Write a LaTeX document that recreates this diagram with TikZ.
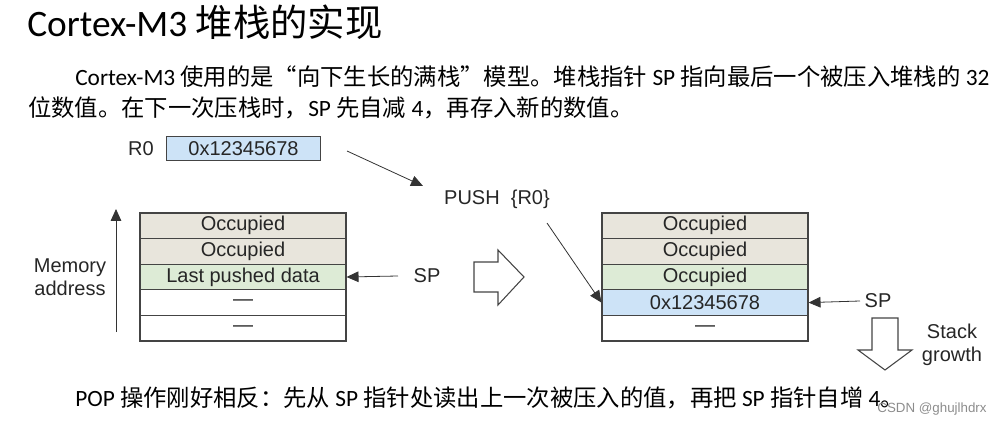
\documentclass[tikz,border=0pt]{standalone}
\usepackage{fontspec}
\setmainfont{Carlito}
\newfontfamily\cjk{Noto Sans CJK SC}
\newfontfamily\arial{Liberation Sans}
\usetikzlibrary{arrows.meta}
\definecolor{occ}{HTML}{E8E5DC}
\definecolor{grn}{HTML}{DDEBD6}
\definecolor{blu}{HTML}{CDE3F7}
\definecolor{edge}{HTML}{444444}
\tikzset{
  cell/.style={draw=edge,line width=0.8pt,minimum width=154.5pt,minimum height=19.2pt,inner sep=0pt,font=\arial\fontsize{15}{16}\selectfont,text=black!85},
  lbl/.style={font=\arial\fontsize{15}{17}\selectfont,text=black!85,align=center},
  ptr/.style={-{Triangle[length=9pt,width=8pt]},line width=0.6pt,draw=black!80},
  body/.style={anchor=west,inner sep=0pt,font=\fontsize{17.5}{20}\selectfont},
  hollow/.style={draw=edge,fill=white,line width=0.8pt}
}
\begin{document}
\begin{tikzpicture}[x=0.75pt,y=-0.75pt]
\useasboundingbox (0,0) rectangle (1004,424);
% texts
\node[anchor=west,inner sep=0pt,font=\fontsize{28}{30}\selectfont] (title) at (27,22) {Cortex-M3 {\cjk 堆栈的实现}};
\node[body] (l1) at (75,77) {Cortex-M3 {\cjk 使用的是“向下生长的满栈”模型。堆栈指针} SP {\cjk 指向最后一个被压入堆栈的} 32};
\node[body] (l2) at (28,108) {{\cjk 位数值。在下一次压栈时，}SP {\cjk 先自减} 4{\cjk ，再存入新的数值。}};
\node[body] (l3) at (75,398) {POP {\cjk 操作刚好相反：先从} SP {\cjk 指针处读出上一次被压入的值，再把} SP {\cjk 指针自增} 4{\cjk 。}};
\node[font=\arial\fontsize{10}{12}\selectfont,text=black!45] (wm) at (932,409) {CSDN @ghujlhdrx};
% R0
\node[lbl] (r0l) at (141,149) {R0};
\node[cell,fill=blu,minimum width=116pt,minimum height=18.5pt] (r0) at (243.5,148.5) {0x12345678};
\node[lbl] (push) at (497,199) {PUSH \ \{R0\}};
\coordinate (p1) at (347,151);
\coordinate (p2) at (423,186);
\draw[ptr] (p1) -- (p2);
% left stack
\foreach \i/\t/\c in {1/Occupied/occ,2/Occupied/occ,3/Last pushed data/grn,4/—/white,5/—/white}{
  \node[cell,fill=\c] (L\i) at (243,200.2+\i*25.6) {\t};
}
% right stack
\foreach \i/\t/\c in {1/Occupied/occ,2/Occupied/occ,3/Occupied/grn,4/0x12345678/blu,5/—/white}{
  \node[cell,fill=\c] (R\i) at (705,200.2+\i*25.6) {\t};
}
\coordinate (q1) at (547,223);
\draw[ptr] (q1) -- (R4.west);
% SP pointers
\node[lbl] (spl) at (427,276) {SP};
\coordinate (s1) at (398,276);
\draw[ptr] (s1) -- (L3.east);
\node[lbl] (spr) at (878,301) {SP};
\coordinate (s2) at (860,301);
\draw[ptr] (s2) -- (R4.east);
% memory address
\node[lbl] (mem) at (70,277) {Memory\\address};
\coordinate (ma) at (116,332);
\coordinate (mb) at (116,209);
\draw[ptr] (ma) -- (mb);
% hollow right arrow
\draw[hollow] (474,262) -- (498,262) -- (498,250) -- (524,277) -- (498,305) -- (498,292) -- (474,292) -- cycle;
% stack growth
\draw[hollow] (872,318) -- (898,318) -- (898,350) -- (912,350) -- (885,370) -- (858,350) -- (872,350) -- cycle;
\node[lbl] (sg) at (952,345) {Stack\\growth};
\end{tikzpicture}
\end{document}
